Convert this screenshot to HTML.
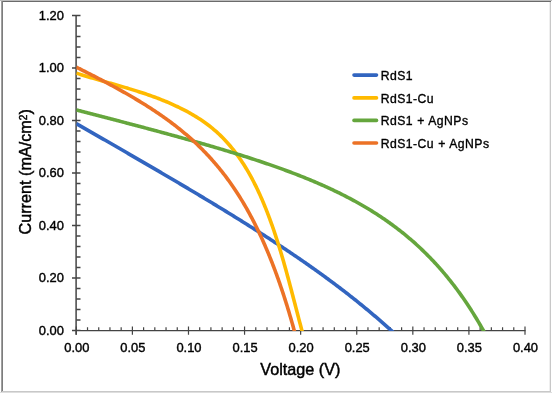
<!DOCTYPE html>
<html><head><meta charset="utf-8"><style>
html,body{margin:0;padding:0;background:#fff;width:552px;height:393px;overflow:hidden}
svg{display:block;will-change:transform}
.t{font-family:"Liberation Sans",sans-serif;font-size:12.9px;fill:#000;stroke:#000;stroke-width:0.4px}
.ti{font-family:"Liberation Sans",sans-serif;font-size:16.2px;fill:#000;stroke:#000;stroke-width:0.45px}
.lg{font-family:"Liberation Sans",sans-serif;font-size:12.2px;letter-spacing:0.45px;word-spacing:0.3px;fill:#000;stroke:#000;stroke-width:0.35px}
</style></head><body>
<svg width="552" height="393" viewBox="0 0 552 393">
<defs><clipPath id="pc"><rect x="76.3" y="10" width="460" height="321"/></clipPath></defs>
<rect x="0" y="0" width="552" height="1" fill="#bdbdbd"/>
<rect x="2" y="1" width="549" height="1" fill="#6b6b6b"/>
<rect x="1" y="1" width="1" height="391" fill="#a0a0a0"/>
<rect x="2" y="1" width="1" height="391" fill="#7d7d7d"/>
<rect x="549" y="2" width="1" height="389" fill="#efefef"/><rect x="550" y="2" width="1" height="390" fill="#c8c8c8"/>
<rect x="2" y="391" width="549" height="1" fill="#c8c8c8"/>
<rect x="0" y="392" width="552" height="1" fill="#dedede"/>
<path d="M76.1 15V334.7" stroke="#444" stroke-width="1.5" fill="none"/>
<path d="M72 330.6H525.5 M72 330.5H80.5 M72 278.0H80.5 M72 225.5H80.5 M72 173.0H80.5 M72 120.5H80.5 M72 68.0H80.5 M72 15.5H80.5 M76.3 320.0H80.5 M76.3 309.5H80.5 M76.3 299.0H80.5 M76.3 288.5H80.5 M76.3 267.5H80.5 M76.3 257.0H80.5 M76.3 246.5H80.5 M76.3 236.0H80.5 M76.3 215.0H80.5 M76.3 204.5H80.5 M76.3 194.0H80.5 M76.3 183.5H80.5 M76.3 162.5H80.5 M76.3 152.0H80.5 M76.3 141.5H80.5 M76.3 131.0H80.5 M76.3 110.0H80.5 M76.3 99.5H80.5 M76.3 89.0H80.5 M76.3 78.5H80.5 M76.3 57.5H80.5 M76.3 47.0H80.5 M76.3 36.5H80.5 M76.3 26.0H80.5" stroke="#444" stroke-width="1.4" fill="none"/>
<path d="M76.30 326.5V334.7 M132.39 326.5V334.7 M188.48 326.5V334.7 M244.56 326.5V334.7 M300.65 326.5V334.7 M356.74 326.5V334.7 M412.83 326.5V334.7 M468.91 326.5V334.7 M525.00 326.5V334.7 M87.52 327.2V330.5 M98.73 327.2V330.5 M109.95 327.2V330.5 M121.17 327.2V330.5 M143.60 327.2V330.5 M154.82 327.2V330.5 M166.04 327.2V330.5 M177.26 327.2V330.5 M199.69 327.2V330.5 M210.91 327.2V330.5 M222.13 327.2V330.5 M233.35 327.2V330.5 M255.78 327.2V330.5 M267.00 327.2V330.5 M278.21 327.2V330.5 M289.43 327.2V330.5 M311.87 327.2V330.5 M323.08 327.2V330.5 M334.30 327.2V330.5 M345.52 327.2V330.5 M367.96 327.2V330.5 M379.17 327.2V330.5 M390.39 327.2V330.5 M401.61 327.2V330.5 M424.04 327.2V330.5 M435.26 327.2V330.5 M446.48 327.2V330.5 M457.70 327.2V330.5 M480.13 327.2V330.5 M491.35 327.2V330.5 M502.56 327.2V330.5 M513.78 327.2V330.5" stroke="#444" stroke-width="1.2" fill="none"/>
<text x="63.9" y="334.85" text-anchor="end" class="t">0.00</text>
<text x="63.9" y="282.35" text-anchor="end" class="t">0.20</text>
<text x="63.9" y="229.85" text-anchor="end" class="t">0.40</text>
<text x="63.9" y="177.35" text-anchor="end" class="t">0.60</text>
<text x="63.9" y="124.85" text-anchor="end" class="t">0.80</text>
<text x="63.9" y="72.35" text-anchor="end" class="t">1.00</text>
<text x="63.9" y="19.85" text-anchor="end" class="t">1.20</text>
<text x="76.80" y="351.7" text-anchor="middle" class="t">0.00</text>
<text x="132.89" y="351.7" text-anchor="middle" class="t">0.05</text>
<text x="188.98" y="351.7" text-anchor="middle" class="t">0.10</text>
<text x="245.06" y="351.7" text-anchor="middle" class="t">0.15</text>
<text x="301.15" y="351.7" text-anchor="middle" class="t">0.20</text>
<text x="357.24" y="351.7" text-anchor="middle" class="t">0.25</text>
<text x="413.33" y="351.7" text-anchor="middle" class="t">0.30</text>
<text x="469.41" y="351.7" text-anchor="middle" class="t">0.35</text>
<text x="525.50" y="351.7" text-anchor="middle" class="t">0.40</text>
<text x="300.3" y="374.5" text-anchor="middle" class="ti">Voltage (V)</text>
<text transform="translate(31.4 171.8) rotate(-90)" text-anchor="middle" class="ti">Current (mA/cm<tspan font-size="10" dy="-4.9">2</tspan><tspan dy="4.9" dx="0.2">)</tspan></text>
<path d="M76.30 123.60 L77.60 124.35 L78.90 125.10 L80.20 125.85 L81.50 126.59 L82.80 127.34 L84.10 128.09 L85.40 128.84 L86.70 129.59 L88.00 130.33 L89.30 131.08 L90.60 131.83 L91.90 132.58 L93.20 133.33 L94.50 134.07 L95.80 134.82 L97.10 135.57 L98.40 136.32 L99.70 137.07 L101.00 137.82 L102.30 138.57 L103.60 139.32 L104.90 140.06 L106.20 140.81 L107.50 141.56 L108.80 142.31 L110.10 143.06 L111.40 143.81 L112.70 144.56 L114.00 145.31 L115.30 146.06 L116.59 146.81 L117.89 147.56 L119.19 148.31 L120.49 149.06 L121.79 149.81 L123.09 150.56 L124.39 151.31 L125.69 152.06 L126.98 152.82 L128.28 153.57 L129.58 154.32 L130.88 155.07 L132.18 155.82 L133.48 156.57 L134.77 157.33 L136.07 158.08 L137.37 158.83 L138.67 159.58 L139.96 160.34 L141.26 161.09 L142.56 161.84 L143.85 162.60 L145.15 163.35 L146.45 164.11 L147.74 164.86 L149.04 165.62 L150.34 166.37 L151.63 167.13 L152.93 167.88 L154.22 168.64 L155.52 169.40 L156.81 170.15 L158.11 170.91 L159.40 171.67 L160.70 172.42 L161.99 173.18 L163.29 173.94 L164.58 174.70 L165.88 175.46 L167.17 176.22 L168.46 176.98 L169.76 177.74 L171.05 178.50 L172.34 179.26 L173.64 180.02 L174.93 180.78 L176.22 181.54 L177.51 182.30 L178.81 183.07 L180.10 183.83 L181.39 184.59 L182.68 185.36 L183.97 186.12 L185.26 186.89 L186.55 187.65 L187.84 188.42 L189.13 189.18 L190.42 189.95 L191.71 190.72 L193.00 191.49 L194.29 192.25 L195.57 193.02 L196.86 193.79 L198.15 194.56 L199.44 195.33 L200.72 196.10 L202.01 196.87 L203.30 197.65 L204.58 198.42 L205.87 199.19 L207.15 199.97 L208.44 200.74 L209.72 201.52 L211.01 202.29 L212.29 203.07 L213.57 203.85 L214.86 204.62 L216.14 205.40 L217.42 206.18 L218.70 206.96 L219.98 207.74 L221.26 208.52 L222.54 209.30 L223.82 210.09 L225.10 210.87 L226.38 211.65 L227.66 212.44 L228.94 213.23 L230.22 214.01 L231.49 214.80 L232.77 215.59 L234.05 216.38 L235.32 217.17 L236.60 217.96 L237.87 218.75 L239.15 219.54 L240.42 220.33 L241.69 221.13 L242.97 221.92 L244.24 222.72 L245.51 223.52 L246.78 224.31 L248.05 225.11 L249.32 225.91 L250.59 226.71 L251.86 227.51 L253.12 228.32 L254.39 229.12 L255.66 229.92 L256.92 230.73 L258.19 231.54 L259.45 232.35 L260.72 233.15 L261.98 233.96 L263.24 234.77 L264.50 235.59 L265.76 236.40 L267.02 237.21 L268.28 238.03 L269.54 238.85 L270.80 239.67 L272.06 240.48 L273.31 241.30 L274.57 242.13 L275.82 242.95 L277.08 243.77 L278.33 244.60 L279.58 245.43 L280.83 246.25 L282.08 247.08 L283.33 247.91 L284.58 248.74 L285.83 249.58 L287.08 250.41 L288.32 251.25 L289.57 252.09 L290.81 252.92 L292.06 253.76 L293.30 254.61 L294.54 255.45 L295.78 256.29 L297.02 257.14 L298.26 257.99 L299.50 258.84 L300.73 259.69 L301.97 260.54 L303.20 261.39 L304.44 262.25 L305.67 263.10 L306.90 263.96 L308.13 264.82 L309.36 265.68 L310.59 266.55 L311.81 267.41 L313.04 268.28 L314.26 269.15 L315.48 270.02 L316.71 270.89 L317.93 271.76 L319.15 272.64 L320.36 273.51 L321.58 274.39 L322.80 275.27 L324.01 276.15 L325.22 277.04 L326.43 277.92 L327.64 278.81 L328.85 279.70 L330.06 280.59 L331.27 281.49 L332.47 282.38 L333.67 283.28 L334.88 284.18 L336.08 285.08 L337.27 285.98 L338.47 286.89 L339.67 287.80 L340.86 288.70 L342.05 289.62 L343.25 290.53 L344.44 291.44 L345.62 292.36 L346.81 293.28 L348.00 294.20 L349.18 295.13 L350.36 296.05 L351.54 296.98 L352.72 297.91 L353.89 298.84 L355.07 299.78 L356.24 300.71 L357.41 301.65 L358.58 302.59 L359.75 303.53 L360.92 304.48 L362.08 305.43 L363.24 306.38 L364.41 307.33 L365.56 308.28 L366.72 309.24 L367.88 310.20 L369.03 311.16 L370.18 312.12 L371.33 313.09 L372.48 314.06 L373.62 315.03 L374.77 316.00 L375.91 316.98 L377.05 317.96 L378.18 318.94 L379.32 319.92 L380.45 320.90 L381.58 321.89 L382.71 322.88 L383.84 323.87 L384.96 324.87 L386.08 325.87 L387.20 326.87 L388.32 327.87 L389.44 328.87 L390.55 329.88 L391.66 330.89 L392.77 331.90 L393.88 332.92 L393.97 333.00" stroke="#3265c0" stroke-width="3.6" fill="none" stroke-linejoin="round" clip-path="url(#pc)"/>
<path d="M76.31 73.10 L77.94 73.63 L79.57 74.15 L81.20 74.67 L82.83 75.18 L84.47 75.68 L86.10 76.18 L87.74 76.68 L89.38 77.17 L91.01 77.66 L92.65 78.14 L94.29 78.62 L95.93 79.10 L97.57 79.58 L99.22 80.05 L100.86 80.52 L102.50 80.99 L104.15 81.46 L105.79 81.93 L107.44 82.40 L109.08 82.87 L110.73 83.33 L112.37 83.80 L114.02 84.27 L115.67 84.74 L117.31 85.22 L118.96 85.69 L120.61 86.17 L122.25 86.65 L123.90 87.13 L125.55 87.62 L127.19 88.10 L128.84 88.60 L130.49 89.10 L132.13 89.60 L133.78 90.11 L135.43 90.62 L137.07 91.14 L138.72 91.66 L140.36 92.19 L142.01 92.73 L143.65 93.28 L145.30 93.83 L146.94 94.39 L148.58 94.96 L150.22 95.53 L151.86 96.12 L153.50 96.71 L155.14 97.31 L156.77 97.92 L158.40 98.54 L160.03 99.17 L161.65 99.81 L163.27 100.46 L164.89 101.11 L166.50 101.78 L168.11 102.46 L169.71 103.15 L171.31 103.85 L172.90 104.56 L174.48 105.28 L176.06 106.01 L177.64 106.75 L179.20 107.50 L180.76 108.27 L182.31 109.05 L183.85 109.84 L185.39 110.64 L186.91 111.45 L188.43 112.28 L189.93 113.12 L191.43 113.97 L192.92 114.84 L194.40 115.71 L195.86 116.61 L197.32 117.51 L198.76 118.43 L200.20 119.36 L201.62 120.31 L203.03 121.27 L204.42 122.25 L205.81 123.24 L207.18 124.25 L208.53 125.27 L209.88 126.30 L211.21 127.36 L212.52 128.42 L213.82 129.51 L215.10 130.61 L216.37 131.72 L217.63 132.85 L218.86 134.00 L220.09 135.16 L221.30 136.34 L222.49 137.53 L223.67 138.74 L224.83 139.96 L225.98 141.19 L227.12 142.44 L228.24 143.70 L229.35 144.98 L230.45 146.27 L231.53 147.57 L232.59 148.88 L233.65 150.21 L234.69 151.55 L235.72 152.90 L236.73 154.26 L237.74 155.64 L238.73 157.02 L239.70 158.42 L240.67 159.82 L241.62 161.24 L242.56 162.67 L243.49 164.10 L244.41 165.55 L245.31 167.00 L246.21 168.47 L247.09 169.94 L247.96 171.42 L248.83 172.92 L249.68 174.41 L250.51 175.92 L251.34 177.43 L252.16 178.96 L252.97 180.48 L253.77 182.02 L254.56 183.56 L255.33 185.11 L256.10 186.66 L256.86 188.22 L257.61 189.79 L258.35 191.36 L259.08 192.94 L259.81 194.52 L260.52 196.11 L261.22 197.70 L261.92 199.29 L262.61 200.89 L263.29 202.49 L263.96 204.09 L264.62 205.70 L265.28 207.31 L265.92 208.93 L266.56 210.54 L267.20 212.16 L267.82 213.78 L268.44 215.40 L269.05 217.03 L269.66 218.65 L270.25 220.28 L270.84 221.90 L271.43 223.53 L272.01 225.15 L272.58 226.78 L273.15 228.41 L273.71 230.04 L274.26 231.67 L274.81 233.30 L275.35 234.93 L275.89 236.56 L276.43 238.20 L276.95 239.83 L277.48 241.46 L277.99 243.10 L278.51 244.73 L279.02 246.37 L279.52 248.00 L280.02 249.64 L280.52 251.28 L281.01 252.92 L281.50 254.56 L281.98 256.20 L282.46 257.84 L282.94 259.48 L283.41 261.12 L283.88 262.77 L284.35 264.41 L284.81 266.05 L285.27 267.70 L285.73 269.35 L286.19 270.99 L286.64 272.64 L287.09 274.29 L287.54 275.94 L287.99 277.59 L288.43 279.24 L288.88 280.89 L289.32 282.54 L289.76 284.19 L290.20 285.85 L290.63 287.50 L291.07 289.15 L291.51 290.81 L291.94 292.47 L292.37 294.12 L292.81 295.78 L293.24 297.44 L293.67 299.10 L294.10 300.76 L294.53 302.42 L294.97 304.08 L295.40 305.75 L295.83 307.41 L296.26 309.07 L296.70 310.74 L297.13 312.40 L297.56 314.07 L298.00 315.74 L298.44 317.41 L298.87 319.08 L299.31 320.74 L299.75 322.42 L300.20 324.09 L300.64 325.76 L301.09 327.43 L301.53 329.11 L301.98 330.78 L302.44 332.46 L302.89 334.13" stroke="#ffba00" stroke-width="3.6" fill="none" stroke-linejoin="round" clip-path="url(#pc)"/>
<path d="M76.30 109.95 L77.75 110.32 L79.21 110.70 L80.66 111.07 L82.11 111.45 L83.56 111.82 L85.02 112.19 L86.47 112.57 L87.92 112.94 L89.37 113.32 L90.82 113.69 L92.28 114.07 L93.73 114.45 L95.18 114.82 L96.63 115.20 L98.09 115.57 L99.54 115.95 L100.99 116.33 L102.44 116.70 L103.89 117.08 L105.35 117.46 L106.80 117.84 L108.25 118.21 L109.70 118.59 L111.15 118.97 L112.60 119.35 L114.05 119.73 L115.51 120.10 L116.96 120.48 L118.41 120.86 L119.86 121.24 L121.31 121.62 L122.76 122.00 L124.21 122.38 L125.66 122.76 L127.12 123.15 L128.57 123.53 L130.02 123.91 L131.47 124.29 L132.92 124.67 L134.37 125.06 L135.82 125.44 L137.27 125.82 L138.72 126.21 L140.17 126.59 L141.62 126.98 L143.07 127.36 L144.52 127.75 L145.97 128.13 L147.42 128.52 L148.87 128.91 L150.31 129.29 L151.76 129.68 L153.21 130.07 L154.66 130.46 L156.11 130.85 L157.56 131.24 L159.01 131.63 L160.46 132.02 L161.90 132.41 L163.35 132.81 L164.80 133.20 L166.25 133.59 L167.69 133.99 L169.14 134.38 L170.59 134.78 L172.03 135.17 L173.48 135.57 L174.93 135.97 L176.37 136.36 L177.82 136.76 L179.27 137.16 L180.71 137.56 L182.16 137.96 L183.60 138.36 L185.05 138.77 L186.49 139.17 L187.94 139.57 L189.38 139.98 L190.83 140.38 L192.27 140.79 L193.71 141.20 L195.16 141.61 L196.60 142.02 L198.04 142.43 L199.49 142.84 L200.93 143.25 L202.37 143.66 L203.81 144.08 L205.25 144.49 L206.70 144.91 L208.14 145.33 L209.58 145.75 L211.02 146.17 L212.46 146.59 L213.90 147.01 L215.34 147.43 L216.77 147.86 L218.21 148.28 L219.65 148.71 L221.09 149.14 L222.53 149.57 L223.96 150.00 L225.40 150.43 L226.84 150.86 L228.27 151.30 L229.71 151.73 L231.14 152.17 L232.58 152.61 L234.01 153.05 L235.44 153.50 L236.88 153.94 L238.31 154.38 L239.74 154.83 L241.17 155.28 L242.60 155.73 L244.04 156.18 L245.47 156.64 L246.89 157.09 L248.32 157.55 L249.75 158.01 L251.18 158.47 L252.61 158.93 L254.03 159.40 L255.46 159.87 L256.88 160.34 L258.31 160.81 L259.73 161.28 L261.16 161.76 L262.58 162.23 L264.00 162.71 L265.42 163.19 L266.84 163.68 L268.26 164.16 L269.68 164.65 L271.10 165.14 L272.51 165.64 L273.93 166.13 L275.34 166.63 L276.76 167.13 L278.17 167.64 L279.59 168.14 L281.00 168.65 L282.41 169.16 L283.82 169.67 L285.23 170.19 L286.63 170.71 L288.04 171.23 L289.45 171.76 L290.85 172.29 L292.25 172.82 L293.66 173.35 L295.06 173.89 L296.46 174.43 L297.86 174.97 L299.25 175.52 L300.65 176.07 L302.05 176.62 L303.44 177.18 L304.83 177.74 L306.22 178.30 L307.61 178.87 L309.00 179.44 L310.39 180.01 L311.77 180.59 L313.16 181.17 L314.54 181.76 L315.92 182.35 L317.30 182.94 L318.67 183.54 L320.05 184.14 L321.42 184.74 L322.80 185.35 L324.17 185.96 L325.54 186.58 L326.90 187.20 L328.27 187.82 L329.63 188.45 L330.99 189.09 L332.35 189.73 L333.71 190.37 L335.06 191.02 L336.41 191.67 L337.76 192.32 L339.11 192.98 L340.46 193.65 L341.80 194.32 L343.14 194.99 L344.48 195.67 L345.82 196.36 L347.15 197.05 L348.48 197.74 L349.81 198.44 L351.14 199.14 L352.46 199.85 L353.78 200.57 L355.10 201.29 L356.41 202.01 L357.73 202.74 L359.04 203.48 L360.34 204.22 L361.65 204.96 L362.95 205.71 L364.24 206.47 L365.54 207.23 L366.83 208.00 L368.12 208.77 L369.40 209.55 L370.68 210.34 L371.96 211.13 L373.23 211.92 L374.50 212.72 L375.77 213.53 L377.03 214.34 L378.29 215.16 L379.55 215.99 L380.80 216.82 L382.05 217.65 L383.29 218.50 L384.53 219.34 L385.77 220.20 L387.00 221.06 L388.23 221.92 L389.45 222.79 L390.67 223.67 L391.89 224.55 L393.10 225.44 L394.31 226.34 L395.51 227.24 L396.71 228.15 L397.90 229.06 L399.09 229.98 L400.28 230.90 L401.46 231.83 L402.63 232.77 L403.80 233.71 L404.97 234.66 L406.13 235.62 L407.29 236.58 L408.44 237.54 L409.58 238.51 L410.73 239.49 L411.86 240.48 L412.99 241.47 L414.12 242.46 L415.24 243.46 L416.36 244.47 L417.47 245.48 L418.58 246.50 L419.68 247.52 L420.77 248.55 L421.86 249.59 L422.95 250.63 L424.03 251.68 L425.10 252.73 L426.17 253.79 L427.24 254.85 L428.29 255.92 L429.35 256.99 L430.40 258.07 L431.44 259.15 L432.47 260.24 L433.51 261.34 L434.53 262.44 L435.55 263.54 L436.57 264.65 L437.58 265.77 L438.58 266.88 L439.58 268.01 L440.57 269.14 L441.56 270.27 L442.54 271.41 L443.52 272.56 L444.49 273.70 L445.46 274.86 L446.42 276.02 L447.37 277.18 L448.32 278.34 L449.27 279.52 L450.21 280.69 L451.14 281.87 L452.07 283.05 L452.99 284.24 L453.91 285.44 L454.82 286.63 L455.72 287.83 L456.63 289.04 L457.52 290.25 L458.41 291.46 L459.30 292.68 L460.18 293.90 L461.05 295.12 L461.92 296.35 L462.78 297.58 L463.64 298.81 L464.50 300.05 L465.35 301.30 L466.19 302.54 L467.03 303.79 L467.86 305.04 L468.69 306.30 L469.51 307.56 L470.33 308.82 L471.15 310.09 L471.95 311.35 L472.76 312.63 L473.56 313.90 L474.35 315.18 L475.14 316.46 L475.92 317.74 L476.70 319.03 L477.48 320.32 L478.25 321.61 L479.01 322.91 L479.78 324.21 L480.53 325.51 L481.28 326.81 L482.03 328.12 L482.77 329.42 L483.51 330.73 L484.25 332.05 L484.77 333.00" stroke="#65a63d" stroke-width="3.6" fill="none" stroke-linejoin="round" clip-path="url(#pc)"/>
<path d="M76.30 67.15 L77.64 67.82 L78.98 68.49 L80.32 69.17 L81.66 69.84 L83.00 70.52 L84.34 71.20 L85.68 71.87 L87.02 72.55 L88.35 73.23 L89.69 73.92 L91.03 74.60 L92.36 75.29 L93.69 75.97 L95.03 76.66 L96.36 77.35 L97.69 78.04 L99.02 78.73 L100.35 79.43 L101.68 80.13 L103.01 80.82 L104.34 81.52 L105.66 82.23 L106.99 82.93 L108.31 83.64 L109.63 84.35 L110.96 85.06 L112.28 85.77 L113.60 86.49 L114.91 87.21 L116.23 87.93 L117.54 88.65 L118.86 89.38 L120.17 90.10 L121.48 90.83 L122.79 91.57 L124.10 92.31 L125.40 93.05 L126.71 93.79 L128.01 94.54 L129.31 95.28 L130.61 96.04 L131.91 96.79 L133.20 97.55 L134.49 98.32 L135.78 99.08 L137.07 99.85 L138.36 100.63 L139.64 101.40 L140.93 102.19 L142.21 102.97 L143.48 103.76 L144.76 104.55 L146.03 105.35 L147.30 106.15 L148.57 106.96 L149.83 107.77 L151.09 108.59 L152.35 109.41 L153.60 110.23 L154.86 111.06 L156.11 111.89 L157.35 112.73 L158.59 113.58 L159.83 114.42 L161.07 115.28 L162.30 116.14 L163.53 117.00 L164.76 117.87 L165.98 118.75 L167.19 119.63 L168.41 120.51 L169.62 121.40 L170.82 122.30 L172.03 123.20 L173.22 124.11 L174.42 125.02 L175.60 125.94 L176.79 126.87 L177.97 127.80 L179.14 128.74 L180.31 129.68 L181.48 130.63 L182.64 131.58 L183.80 132.54 L184.95 133.51 L186.09 134.48 L187.23 135.46 L188.37 136.45 L189.50 137.44 L190.62 138.44 L191.74 139.44 L192.86 140.45 L193.97 141.47 L195.07 142.49 L196.16 143.52 L197.26 144.56 L198.34 145.60 L199.42 146.65 L200.49 147.70 L201.56 148.76 L202.62 149.83 L203.68 150.90 L204.73 151.98 L205.77 153.06 L206.80 154.15 L207.83 155.25 L208.86 156.35 L209.88 157.46 L210.89 158.57 L211.89 159.69 L212.89 160.82 L213.88 161.95 L214.87 163.09 L215.84 164.23 L216.82 165.38 L217.78 166.54 L218.74 167.70 L219.69 168.86 L220.64 170.04 L221.58 171.21 L222.51 172.39 L223.43 173.58 L224.35 174.77 L225.27 175.97 L226.17 177.17 L227.07 178.38 L227.96 179.59 L228.85 180.81 L229.73 182.03 L230.60 183.26 L231.46 184.49 L232.32 185.73 L233.18 186.97 L234.02 188.22 L234.86 189.47 L235.70 190.72 L236.52 191.98 L237.34 193.24 L238.16 194.51 L238.97 195.78 L239.77 197.05 L240.56 198.33 L241.35 199.61 L242.14 200.90 L242.91 202.19 L243.68 203.48 L244.45 204.78 L245.21 206.08 L245.96 207.39 L246.71 208.69 L247.45 210.00 L248.18 211.32 L248.91 212.64 L249.63 213.96 L250.35 215.28 L251.06 216.61 L251.77 217.94 L252.47 219.27 L253.17 220.61 L253.86 221.94 L254.54 223.29 L255.22 224.63 L255.89 225.98 L256.56 227.32 L257.23 228.68 L257.88 230.03 L258.54 231.39 L259.19 232.75 L259.83 234.11 L260.47 235.47 L261.10 236.84 L261.73 238.21 L262.35 239.58 L262.97 240.95 L263.58 242.33 L264.19 243.70 L264.80 245.08 L265.40 246.46 L265.99 247.84 L266.58 249.23 L267.17 250.62 L267.75 252.00 L268.33 253.39 L268.90 254.79 L269.47 256.18 L270.04 257.58 L270.60 258.97 L271.16 260.37 L271.71 261.77 L272.26 263.17 L272.80 264.58 L273.34 265.98 L273.88 267.39 L274.41 268.80 L274.94 270.21 L275.47 271.62 L275.99 273.03 L276.51 274.44 L277.02 275.86 L277.53 277.27 L278.04 278.69 L278.54 280.11 L279.04 281.53 L279.54 282.95 L280.03 284.37 L280.52 285.79 L281.01 287.22 L281.49 288.64 L281.97 290.07 L282.45 291.50 L282.92 292.92 L283.39 294.35 L283.86 295.78 L284.32 297.22 L284.78 298.65 L285.24 300.08 L285.70 301.52 L286.15 302.95 L286.60 304.39 L287.04 305.82 L287.49 307.26 L287.93 308.70 L288.37 310.14 L288.80 311.58 L289.23 313.02 L289.66 314.46 L290.09 315.91 L290.51 317.35 L290.93 318.80 L291.35 320.24 L291.77 321.69 L292.18 323.13 L292.59 324.58 L293.00 326.03 L293.41 327.48 L293.81 328.93 L294.21 330.38 L294.61 331.83 L294.93 333.00" stroke="#ec7226" stroke-width="3.6" fill="none" stroke-linejoin="round" clip-path="url(#pc)"/>
<path d="M354 75.1H376.5" stroke="#3265c0" stroke-width="3.6" stroke-linecap="round"/>
<text x="380.8" y="80.1" class="lg">RdS1</text>
<path d="M354 97.9H376.5" stroke="#ffba00" stroke-width="3.6" stroke-linecap="round"/>
<text x="380.8" y="102.5" class="lg">RdS1-Cu</text>
<path d="M354 120.4H376.5" stroke="#65a63d" stroke-width="3.6" stroke-linecap="round"/>
<text x="380.8" y="124.8" class="lg">RdS1 + AgNPs</text>
<path d="M354 143.0H376.5" stroke="#ec7226" stroke-width="3.6" stroke-linecap="round"/>
<text x="380.8" y="147.5" class="lg">RdS1-Cu + AgNPs</text>
</svg></body></html>
